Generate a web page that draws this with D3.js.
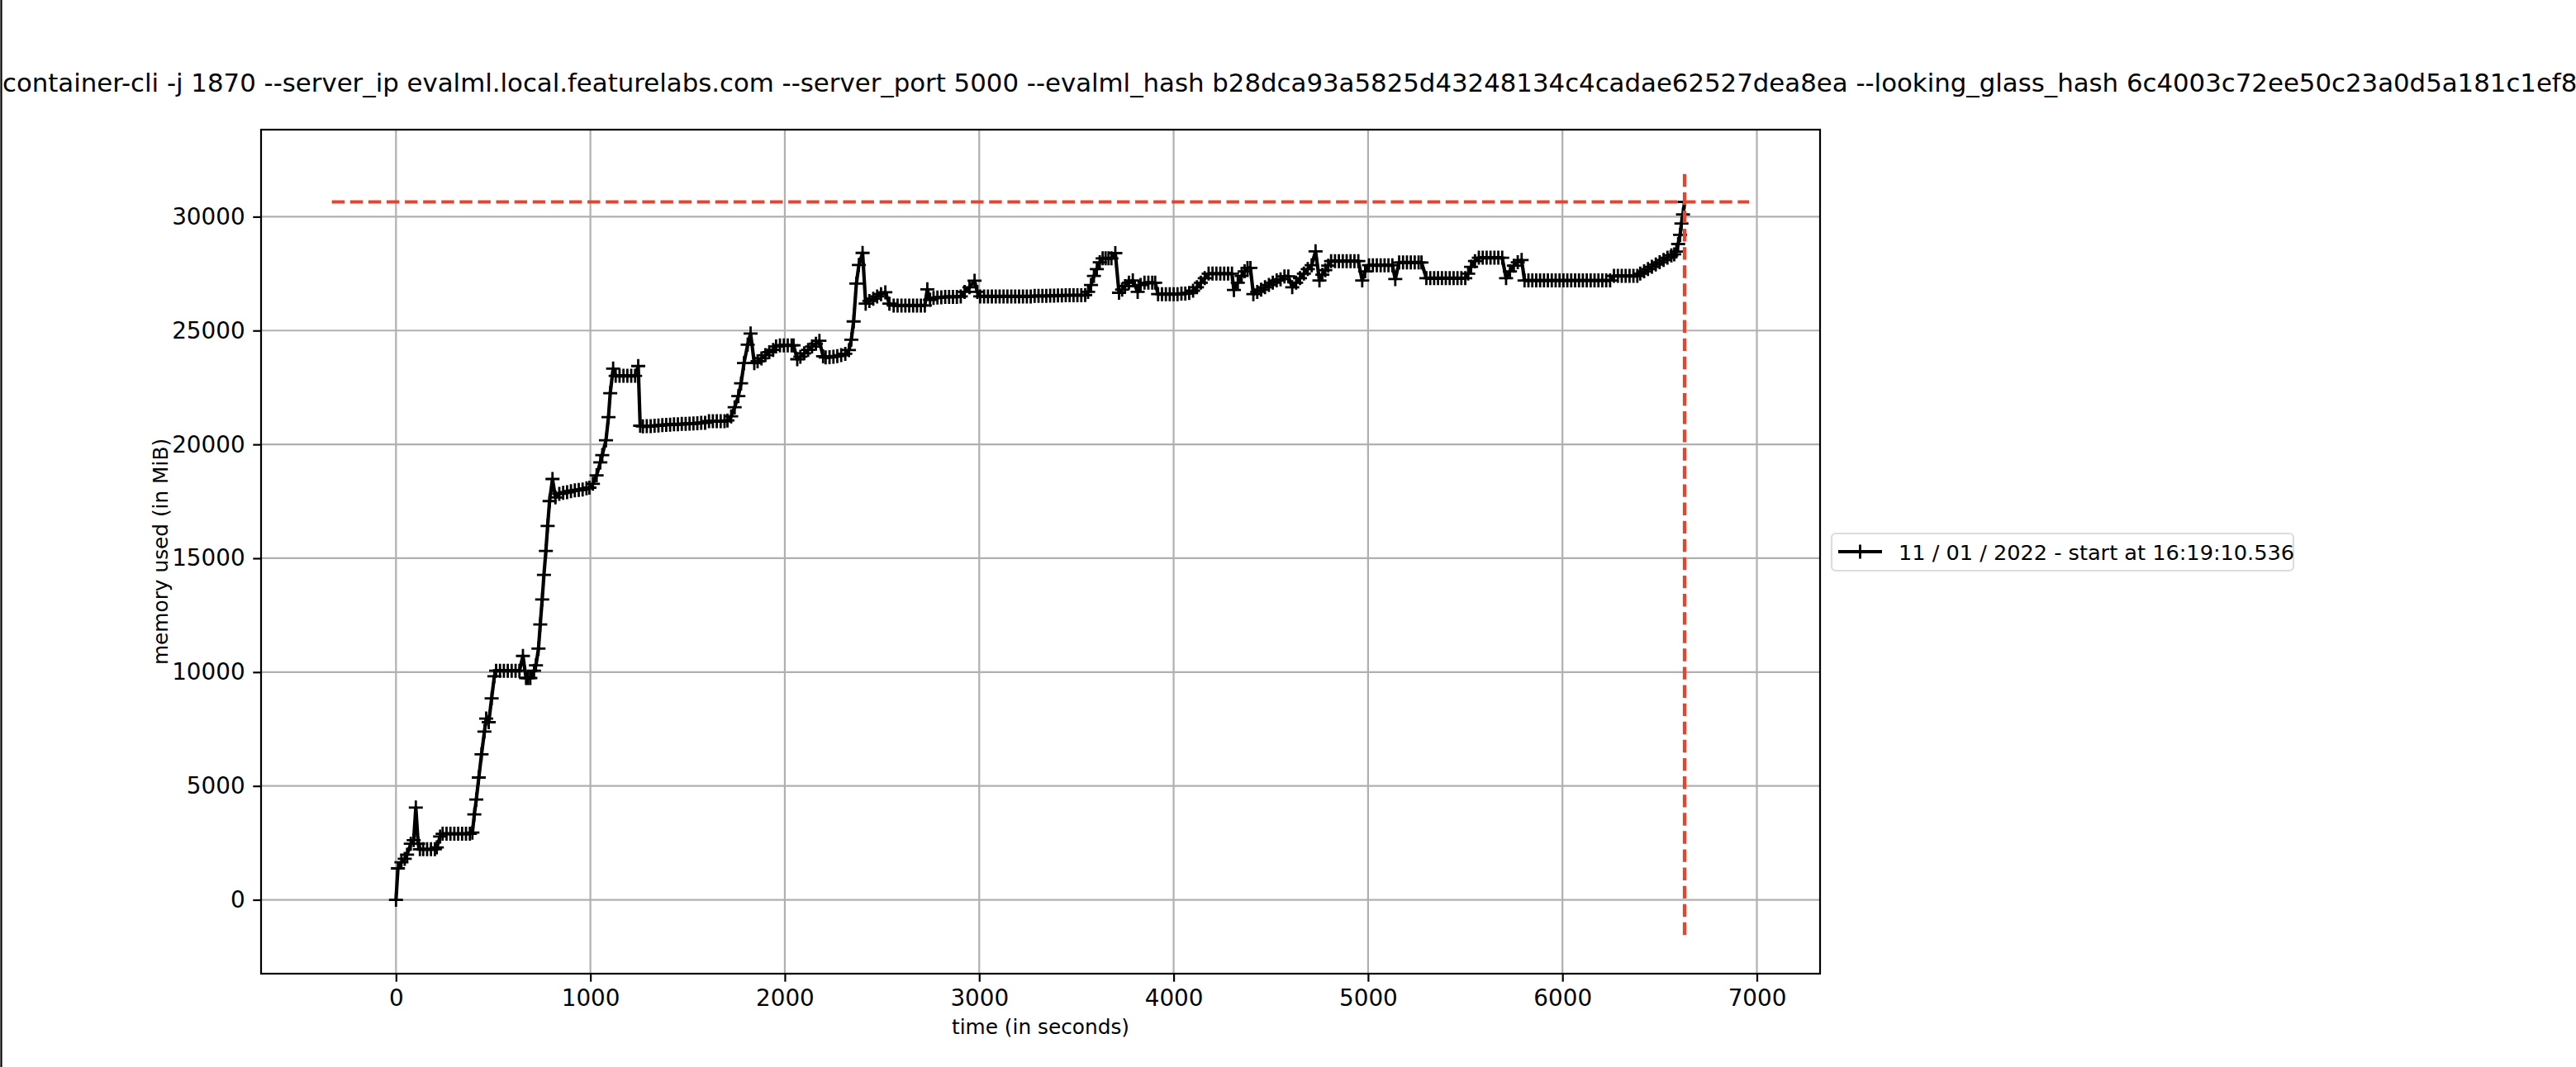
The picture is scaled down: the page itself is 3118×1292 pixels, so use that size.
<!DOCTYPE html>
<html><head><meta charset="utf-8">
<script src="https://cdn.jsdelivr.net/npm/d3@7"></script>
<style>body{margin:0;background:#fff;overflow:hidden}svg{display:block}text{font-family:"DejaVu Sans",sans-serif}</style>
</head><body>
<script>
const titleText = "container-cli -j 1870 --server_ip evalml.local.featurelabs.com --server_port 5000 --evalml_hash b28dca93a5825d43248134c4cadae62527dea8ea --looking_glass_hash 6c4003c72ee50c23a0d5a181c1ef855f1a";
const xLabel = "time (in seconds)";
const yLabel = "memory used (in MiB)";
const legendLabel = "11 / 01 / 2022 - start at 16:19:10.536";
const xTicks = [0,1000,2000,3000,4000,5000,6000,7000];
const yTicks = [0,5000,10000,15000,20000,25000,30000];
const maxLine = {xStart:-330, xEnd:6960, y:30650};
const endLine = {x:6628, yStart:-1550, yEnd:32050};
const samples = [
[0,0],[10,1380],[28,1650],[45,1800],[57,1980],[76,2460],[91,2620],[102,4050],[114,2460],[123,2220],[140,2220],[160,2220],[180,2220],[200,2220],[210,2300],[227,2780],[240,2900],[260,2900],[280,2900],[300,2900],[320,2900],[340,2900],[360,2900],[380,2900],[393,2950],[403,3750],[413,4400],[426,5370],[440,6390],[455,7390],[464,7960],[477,7800],[492,8850],[506,9820],[515,10060],[535,10060],[555,10060],[575,10060],[595,10060],[615,10060],[635,10060],[653,10710],[669,9740],[680,9740],[691,9740],[710,10060],[720,10300],[733,11030],[742,12090],[752,13190],[761,14270],[771,15320],[780,16420],[790,17510],[805,18480],[820,17670],[840,17830],[860,17870],[880,17900],[900,17950],[920,17980],[940,18000],[960,18020],[980,18070],[995,18100],[1013,18270],[1032,18640],[1051,19210],[1061,19530],[1080,20180],[1093,21200],[1102,22250],[1117,23330],[1130,23010],[1150,23010],[1170,23010],[1190,23010],[1210,23010],[1230,23010],[1246,23440],[1256,20820],[1270,20790],[1290,20800],[1310,20800],[1330,20820],[1350,20830],[1370,20850],[1390,20860],[1410,20870],[1430,20880],[1450,20880],[1470,20900],[1490,20900],[1510,20910],[1530,20920],[1550,20930],[1570,20950],[1590,20950],[1610,21020],[1630,21020],[1650,21020],[1670,21020],[1690,21020],[1705,21050],[1724,21230],[1742,21630],[1761,22120],[1775,22680],[1790,23570],[1809,24380],[1824,24870],[1843,23570],[1860,23650],[1880,23780],[1900,23920],[1920,24050],[1940,24150],[1955,24300],[1975,24350],[1995,24350],[2015,24350],[2035,24350],[2045,24350],[2064,23740],[2080,23850],[2100,24000],[2120,24150],[2140,24300],[2160,24420],[2178,24550],[2197,23870],[2210,23820],[2230,23830],[2250,23850],[2270,23880],[2290,23920],[2311,23980],[2330,24140],[2342,24600],[2354,25400],[2368,27060],[2381,27880],[2400,28410],[2416,26180],[2435,26300],[2455,26400],[2475,26500],[2495,26600],[2517,26680],[2538,26180],[2560,26100],[2580,26100],[2600,26100],[2620,26100],[2640,26100],[2660,26100],[2680,26100],[2700,26100],[2720,26100],[2733,26810],[2747,26350],[2765,26430],[2785,26450],[2805,26460],[2825,26480],[2845,26480],[2865,26480],[2885,26480],[2905,26500],[2925,26700],[2950,26900],[2976,27190],[2990,26700],[3005,26500],
[3025,26500],[3045,26500],[3065,26500],[3085,26500],[3105,26500],[3125,26500],[3145,26500],[3165,26500],[3185,26500],[3205,26500],[3225,26500],[3245,26500],[3265,26500],[3285,26520],[3305,26520],[3325,26520],[3345,26520],[3365,26530],[3385,26530],[3405,26540],[3425,26540],[3445,26550],[3465,26550],[3485,26550],[3505,26550],[3525,26550],[3545,26560],
[3560,26700],[3575,27000],[3590,27400],[3605,27700],[3620,28000],[3635,28170],[3650,28170],[3665,28170],[3680,28170],[3700,28400],[3719,26660],[3735,26800],[3750,26950],[3770,27100],[3790,27200],[3815,26700],[3830,27000],[3850,27100],[3870,27100],[3890,27100],[3905,27100],[3920,26600],[3940,26600],[3960,26600],[3980,26600],[4000,26600],[4020,26600],[4040,26620],[4060,26620],[4080,26650],[4100,26750],[4120,26900],[4140,27100],[4160,27300],[4180,27500],[4200,27500],[4220,27500],[4240,27500],[4260,27500],[4280,27500],[4300,27500],[4310,26780],[4330,27100],[4350,27400],[4365,27600],[4380,27750],[4395,27750],[4410,26600],[4430,26700],[4450,26800],[4470,26900],[4490,27000],[4510,27100],[4530,27200],[4550,27250],[4570,27380],[4590,27380],[4610,26900],[4630,27100],[4650,27300],[4670,27500],[4690,27700],[4710,27870],[4730,28480],[4750,27200],[4765,27450],[4780,27650],[4795,27850],[4810,28050],[4830,28050],[4850,28050],[4870,28050],[4890,28050],[4910,28050],[4930,28050],[4950,28050],[4970,27200],[4985,27600],[5005,27870],[5025,27870],[5045,27870],[5065,27870],[5085,27870],[5105,27870],[5125,27870],[5140,27260],[5160,27990],[5180,27990],[5200,27990],[5220,27990],[5240,27990],[5260,27990],[5275,27990],[5300,27300],
[5320,27300],[5340,27300],[5360,27300],[5380,27300],[5400,27300],[5420,27300],[5440,27300],[5460,27300],[5480,27300],[5500,27300],[5515,27500],[5530,27800],[5550,28050],[5570,28200],[5590,28200],[5610,28200],[5630,28200],[5650,28200],[5670,28200],[5690,28200],[5710,27300],[5730,27600],[5750,27850],[5770,28000],[5790,28100],[5805,27200],
[5825,27200],[5845,27200],[5865,27200],[5885,27200],[5905,27200],[5925,27200],[5945,27200],[5965,27200],[5985,27200],[6005,27200],[6025,27200],[6045,27200],[6065,27200],[6085,27200],[6105,27200],[6125,27200],[6145,27200],[6165,27200],[6185,27200],[6205,27200],[6225,27200],[6245,27200],
[6265,27400],[6285,27400],[6305,27400],[6325,27400],[6345,27400],[6365,27400],[6385,27400],[6400,27500],[6420,27600],[6440,27700],[6460,27800],[6480,27900],[6500,28000],[6520,28100],[6540,28200],[6560,28300],[6575,28350],[6586,28470],[6595,28800],[6605,29200],[6612,29700],[6620,30100],[6628,30650]
];

const W=3118,H=1292;
const L=316,R=2203,T=157,B=1179;
const svg=d3.select("body").append("svg").attr("width",W).attr("height",H);
const x=d3.scaleLinear().domain([-694,7325]).range([L,R]);
const y=d3.scaleLinear().domain([-3245,33823]).range([B,T]);
const fs=27.8, lfs=24.8, grid="#b0b0b0", red="#e8432e";

svg.append("line").attr("x1",1.5).attr("x2",1.5).attr("y1",0).attr("y2",H).attr("stroke","#000").attr("stroke-width",2.2);
svg.append("text").attr("x",3).attr("y",111).attr("font-size",30.8).text(titleText);

const g=svg.append("g");
g.selectAll(".gx").data(xTicks).join("line").attr("x1",d=>x(d)).attr("x2",d=>x(d)).attr("y1",T).attr("y2",B).attr("stroke",grid).attr("stroke-width",2.2);
g.selectAll(".gy").data(yTicks).join("line").attr("y1",d=>y(d)).attr("y2",d=>y(d)).attr("x1",L).attr("x2",R).attr("stroke",grid).attr("stroke-width",2.2);

svg.append("clipPath").attr("id","c").append("rect").attr("x",L).attr("y",T).attr("width",R-L).attr("height",B-T);
const pg=svg.append("g").attr("clip-path","url(#c)");
pg.append("path").datum(samples).attr("d",d3.line().x(d=>x(d[0])).y(d=>y(d[1]))).attr("fill","none").attr("stroke","#000").attr("stroke-width",4.2).attr("stroke-linejoin","round");
const ms=8.5;
pg.selectAll(".m").data(samples).join("path").attr("d",d=>`M${x(d[0])-ms},${y(d[1])}H${x(d[0])+ms}M${x(d[0])},${y(d[1])-ms}V${y(d[1])+ms}`).attr("stroke","#000").attr("stroke-width",2.8);
pg.append("line").attr("x1",x(maxLine.xStart)).attr("x2",x(maxLine.xEnd)).attr("y1",y(maxLine.y)).attr("y2",y(maxLine.y)).attr("stroke",red).attr("stroke-width",4.2).attr("stroke-dasharray","15.4,6.7");
pg.append("line").attr("x1",x(endLine.x)).attr("x2",x(endLine.x)).attr("y1",y(endLine.yStart)).attr("y2",y(endLine.yEnd)).attr("stroke",red).attr("stroke-width",4.2).attr("stroke-dasharray","15.4,6.7");

svg.append("rect").attr("x",L).attr("y",T).attr("width",R-L).attr("height",B-T).attr("fill","none").attr("stroke","#000").attr("stroke-width",2.2);

const xa=svg.append("g").attr("transform",`translate(0,${B})`).call(d3.axisBottom(x).tickValues(xTicks).tickFormat(d3.format("d")).tickSize(9.7).tickPadding(9.7));
const ya=svg.append("g").attr("transform",`translate(${L},0)`).call(d3.axisLeft(y).tickValues(yTicks).tickFormat(d3.format("d")).tickSize(9.7).tickPadding(9.7));
[xa,ya].forEach(a=>{a.select(".domain").remove();a.selectAll("line").attr("stroke-width",2.2);a.selectAll("text").attr("font-size",fs).attr("font-family","DejaVu Sans").attr("fill","#000");});

svg.append("text").attr("x",(L+R)/2).attr("y",1252).attr("text-anchor","middle").attr("font-size",lfs).text(xLabel);
svg.append("text").attr("transform",`translate(203,${(T+B)/2}) rotate(-90)`).attr("text-anchor","middle").attr("font-size",lfs).text(yLabel);

const lg=svg.append("g");
lg.append("rect").attr("x",2217).attr("y",646).attr("width",559).attr("height",45).attr("rx",5).attr("fill","#fff").attr("stroke","#dcdcdc").attr("stroke-width",2.2);
lg.append("line").attr("x1",2225).attr("x2",2278).attr("y1",668).attr("y2",668).attr("stroke","#000").attr("stroke-width",4.2);
lg.append("path").attr("d","M2243,668H2260M2251.5,659.5V676.5").attr("stroke","#000").attr("stroke-width",2.8);
lg.append("text").attr("x",2298).attr("y",678).attr("font-size",25.6).text(legendLabel);
</script>
</body></html>
